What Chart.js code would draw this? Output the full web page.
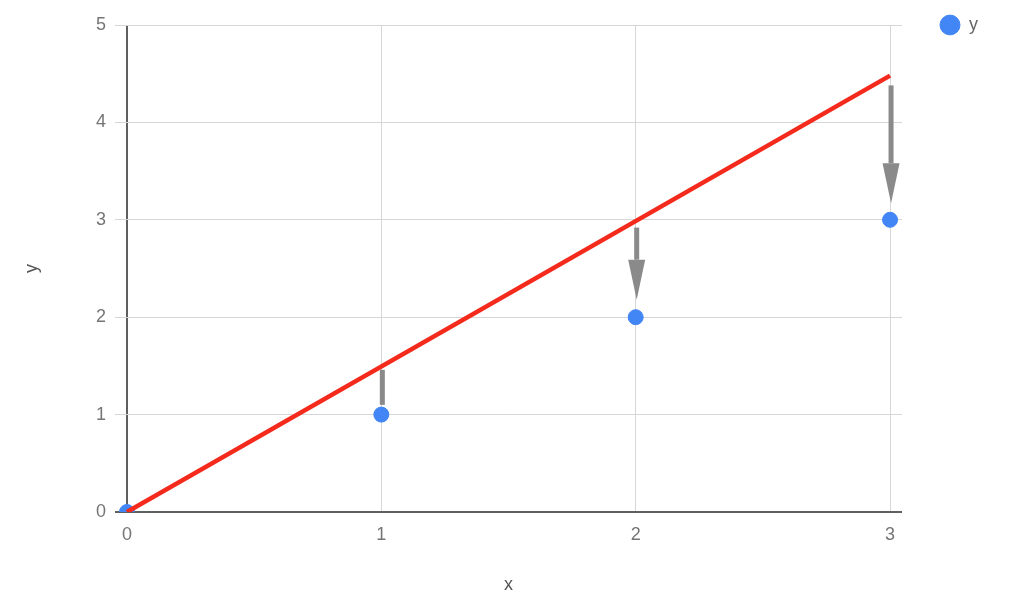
<!DOCTYPE html>
<html>
<head>
<meta charset="utf-8">
<script src="https://cdn.jsdelivr.net/npm/chart.js@4.4.1/dist/chart.umd.min.js"></script>
<style>
  body { margin: 0; background: #fff; }
  #wrap { width: 1024px; height: 611px; }
</style>
</head>
<body>
<div id="wrap"><canvas id="chart" width="1024" height="611"></canvas></div>
<script>
// observed points
const xValues = [0, 1, 2, 3];
const yValues = [0, 1, 2, 3];

// red fitted line, two end points
const fitX = [0, 3];
const fitY = [0, 4.48];

// gray arrows from the line down to each point
const arrowX = [1, 2, 3];
const arrowFrom = [1.46, 2.92, 4.38];
const arrowTo = [1.10, 2.18, 3.17];

const xTicks = [0, 1, 2, 3];
const yTicks = [0, 1, 2, 3, 4, 5];

const FONT = "'Liberation Sans', Arial, sans-serif";

// scatter points and fit line built from the arrays above
const points = xValues.map((v, i) => ({ x: v, y: yValues[i] }));
const fitLine = fitX.map((v, i) => ({ x: v, y: fitY[i] }));

const arrowPlugin = {
    id: 'arrows',
    afterDatasetsDraw(chart) {
        const ctx = chart.ctx;
        const xs = chart.scales.x;
        const ys = chart.scales.y;
        ctx.save();
        ctx.fillStyle = '#8a8a8a';
        for (let i = 0; i < arrowX.length; i++) {
            const px = xs.getPixelForValue(arrowX[i]) + 1;
            const top = ys.getPixelForValue(arrowFrom[i]);
            const tip = ys.getPixelForValue(arrowTo[i]);
            const len = tip - top;
            const head = len > 50 ? 40 : 0;
            ctx.fillRect(px - 2.5, top, 5, len - head);
            if (head) {
                ctx.beginPath();
                ctx.moveTo(px - 8.5, tip - head);
                ctx.lineTo(px + 8.5, tip - head);
                ctx.lineTo(px, tip);
                ctx.closePath();
                ctx.fill();
            }
        }
        ctx.restore();
    }
};

// move the legend item next to the plot like the original
const legendNudge = {
    id: 'legendNudge',
    afterLayout(chart) {
        const lg = chart.legend;
        const dx = chart.chartArea.right + 28 - lg.left;
        lg.left += dx;
        lg.right += dx;
        lg.top = chart.chartArea.top - 19;
        lg.height = lg.bottom - lg.top;
    }
};

function gridColor(ctx) {
    return ctx.tick && ctx.tick.value === 0 ? '#5f5f5f' : '#d6d6d6';
}
function gridWidth(ctx) {
    return ctx.tick && ctx.tick.value === 0 ? 2 : 1;
}

const ctx = document.getElementById('chart').getContext('2d');
new Chart(ctx, {
    type: 'scatter',
    data: {
        datasets: [
            {
                type: 'line',
                label: 'fit',
                data: fitLine,
                borderColor: '#f42a1c',
                borderWidth: 4.5,
                pointRadius: 0,
                fill: false,
                order: 0
            },
            {
                label: 'y',
                data: points,
                backgroundColor: '#4285f4',
                borderColor: '#4285f4',
                borderWidth: 1,
                pointRadius: 7.5,
                order: 1
            }
        ]
    },
    options: {
        responsive: false,
        animation: false,
        layout: { padding: { top: 25, right: 64, bottom: 0, left: 0 } },
        plugins: {
            tooltip: { enabled: false },
            legend: {
                position: 'right',
                align: 'start',
                labels: {
                    filter: item => item.text === 'y',
                    usePointStyle: true,
                    pointStyle: 'circle',
                    boxHeight: 14,
                    pointStyleWidth: 20,
                    padding: 10,
                    color: '#666',
                    font: { family: FONT, size: 18 }
                }
            }
        },
        scales: {
            x: {
                type: 'linear',
                min: -0.047,
                max: 3.047,
                afterBuildTicks: scale => {
                    scale.ticks = xTicks.map(v => ({ value: v }));
                },
                afterFit: scale => { scale.height = 99; },
                border: { display: false },
                grid: { color: gridColor, lineWidth: gridWidth, drawTicks: false },
                ticks: { padding: 12, color: '#757575', font: { family: FONT, size: 18 } },
                title: {
                    display: true,
                    text: 'x',
                    color: '#555',
                    font: { family: FONT, size: 18 },
                    padding: { top: 0, bottom: 15 }
                }
            },
            y: {
                type: 'linear',
                min: 0,
                max: 5,
                afterBuildTicks: scale => {
                    scale.ticks = yTicks.map(v => ({ value: v }));
                },
                afterFit: scale => { scale.width = 115; },
                border: { display: false },
                grid: { color: gridColor, lineWidth: gridWidth, drawTicks: false },
                ticks: { padding: 9, color: '#757575', font: { family: FONT, size: 18 } },
                title: {
                    display: true,
                    text: 'y',
                    color: '#555',
                    font: { family: FONT, size: 18 },
                    padding: { top: 21, bottom: 0 }
                }
            }
        }
    },
    plugins: [arrowPlugin, legendNudge]
});
</script>
</body>
</html>
